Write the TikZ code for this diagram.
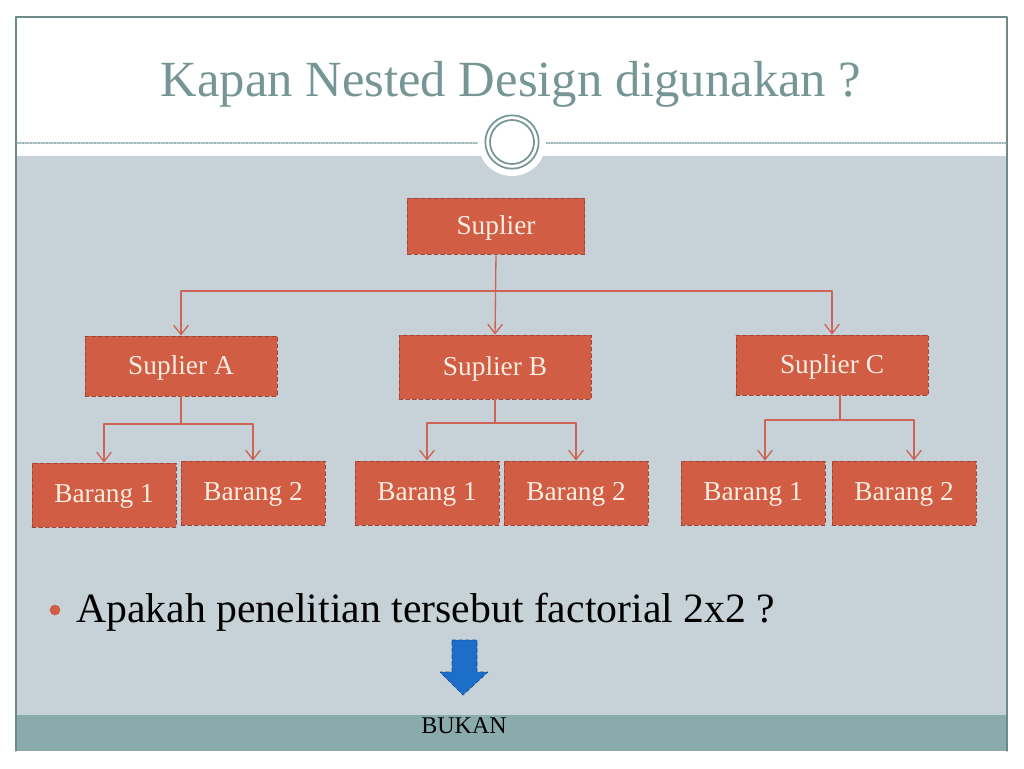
\documentclass[tikz,border=0pt]{standalone}
\usepackage{fontspec}
\setmainfont{Liberation Serif}
\usetikzlibrary{arrows.meta}
\definecolor{merah}{RGB}{209,93,69}
\definecolor{garisKotak}{RGB}{160,70,55}
\definecolor{garisPanah}{RGB}{205,100,85}
\definecolor{krem}{RGB}{253,238,225}
\definecolor{abuLatar}{RGB}{199,210,216}
\definecolor{hijauPita}{RGB}{137,171,171}
\definecolor{warnaJudul}{RGB}{118,150,150}
\definecolor{biruPanah}{RGB}{28,110,200}
\begin{document}
\begin{tikzpicture}[line join=round, line cap=round, x=0.75pt, y=-0.75pt, >={Straight Barb[length=7pt,width=11pt]},
	kotak/.style={draw=garisKotak, densely dashed, line width=0.6pt, fill=merah, text=krem, font=\fontsize{20.5}{24}\selectfont, inner sep=0pt, text depth=2pt},
	kotakSup/.style={kotak, minimum width=144pt, minimum height=45pt},
	kotakBrg/.style={kotak, minimum width=108pt, minimum height=48pt},
	garis/.style={draw=garisPanah, line width=1pt}]
	%Batas gambar.
	\useasboundingbox (0,0) rectangle (1024,768);
	%Latar slide.
	\fill[white] (0,0) rectangle (1024,768);
	\fill[abuLatar] (16,156) rectangle (1007,715);
	\fill[hijauPita] (16,715) rectangle (1007,751);
	\draw[hijauPita!80!black, line width=0.8pt] (16,751) -- (16,17) -- (1007,17) -- (1007,751);
	\draw[warnaJudul!70, densely dotted, line width=1pt] (17,143) -- (478,143);
	\draw[warnaJudul!70, densely dotted, line width=1pt] (546,143) -- (1007,143);
	\fill[white] (512,142) circle[radius=25.5pt];
	\draw[warnaJudul, line width=1.3pt] (512,142) circle[radius=20pt];
	\draw[warnaJudul, line width=1.3pt] (512,142) circle[radius=16.5pt];
	%Judul.
	\node[anchor=base, inner sep=0pt, text=warnaJudul, font=\fontsize{38}{46}\selectfont] (judul) at (511,96) {Kapan Nested Design digunakan ?};
	%Kotak-kotak.
	\node[kotak, minimum width=133pt, minimum height=42pt] (sup) at (496,226) {Suplier};
	\node[kotakSup] (supA) at (181,366) {Suplier A};
	\node[kotakSup, minimum height=48pt] (supB) at (495,367) {Suplier B};
	\node[kotakSup] (supC) at (832,365) {Suplier C};
	\node[kotakBrg] (a1) at (104,495) {Barang 1};
	\node[kotakBrg] (a2) at (253,493) {Barang 2};
	\node[kotakBrg] (b1) at (427,493) {Barang 1};
	\node[kotakBrg] (b2) at (576,493) {Barang 2};
	\node[kotakBrg] (c1) at (753,493) {Barang 1};
	\node[kotakBrg] (c2) at (904,493) {Barang 2};
	%Titik cabang.
	\coordinate (h0) at (496,291);
	\coordinate (hA) at (181,424);
	\coordinate (hB) at (495,423);
	\coordinate (hC) at (840,420);
	\coordinate (kC1) at (765,420);
	\coordinate (kC2) at (914,420);
	%Garis dan panah.
	\draw[garis, ->] (sup.south) -- (supB.north);
	\draw[garis] (supA.north |- h0) -- (supC.north |- h0);
	\draw[garis, ->] (supA.north |- h0) -- (supA.north);
	\draw[garis, ->] (supC.north |- h0) -- (supC.north);
	\draw[garis] (supA.south) -- (hA);
	\draw[garis] (a1.north |- hA) -- (a2.north |- hA);
	\draw[garis, ->] (a1.north |- hA) -- (a1.north);
	\draw[garis, ->] (a2.north |- hA) -- (a2.north);
	\draw[garis] (supB.south) -- (hB);
	\draw[garis] (b1.north |- hB) -- (b2.north |- hB);
	\draw[garis, ->] (b1.north |- hB) -- (b1.north);
	\draw[garis, ->] (b2.north |- hB) -- (b2.north);
	\draw[garis] (hC |- supC.south) -- (hC);
	\draw[garis] (kC1) -- (kC2);
	\draw[garis, ->] (kC1) -- (kC1 |- c1.north);
	\draw[garis, ->] (kC2) -- (kC2 |- c2.north);
	%Pertanyaan.
	\fill[merah] (55,610) circle[radius=4pt];
	\node[anchor=base west, inner sep=0pt, font=\fontsize{31.3}{36}\selectfont] (tanya) at (76,622) {Apakah penelitian tersebut factorial 2x2 ?};
	%Panah biru.
	\draw[biruPanah!70!black, densely dashed, line width=0.5pt, fill=biruPanah] (452,640) -- (477,640) -- (477,672) -- (488,672) -- (463,695) -- (440,672) -- (452,672) -- cycle;
	\node[font=\fontsize{18}{22}\selectfont, inner sep=0pt] (jawab) at (464,726) {BUKAN};
\end{tikzpicture}
\end{document}
